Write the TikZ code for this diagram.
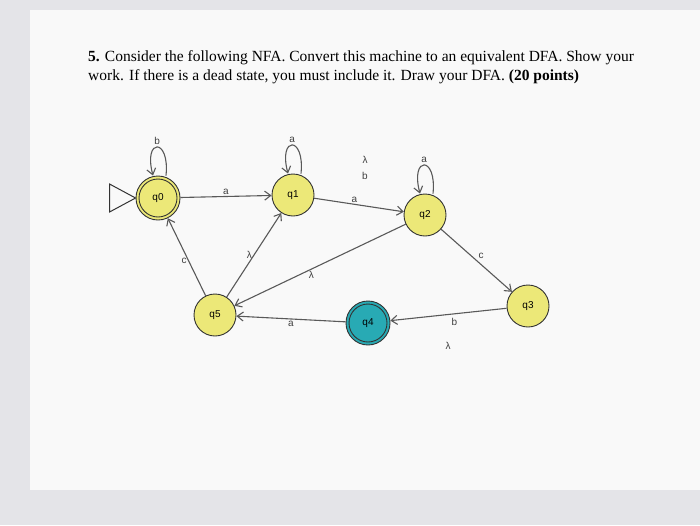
\documentclass[tikz,border=0pt]{standalone}
\usepackage{fontspec}
\setmainfont{Liberation Serif}
\newfontfamily\lab{Liberation Sans}
\usetikzlibrary{arrows.meta}
\definecolor{yel}{RGB}{236,232,120}
\definecolor{cyn}{RGB}{40,170,180}
\definecolor{bg}{RGB}{228,228,232}
\tikzset{
 st/.style={circle,draw=black!80,fill=yel,minimum size=42pt,inner sep=0pt,line width=0.9pt,font=\lab\fontsize{10}{10}\selectfont},
 tr/.style={draw=black!65,line width=1.1pt,-{Straight Barb[length=6pt,width=9pt]}},
 el/.style={font=\lab\fontsize{10}{10}\selectfont,text=black!75,inner sep=1.5pt}
}
\begin{document}
\begin{tikzpicture}[x=1pt,y=-1pt]
\useasboundingbox (0,0) rectangle (700,525);
\fill[bg] (0,0) rectangle (700,525);
\fill[white!95!gray] (30,10) rectangle (700,490);
\node[anchor=base west,inner sep=0pt,font=\fontsize{15.5}{18}\selectfont] (t1) at (88,61) {\textbf{5.} Consider the following NFA. Convert this machine to an equivalent DFA. Show your};
\node[anchor=base west,inner sep=0pt,font=\fontsize{15.5}{18}\selectfont] (t2) at (88,80) {work. If there is a dead state, you must include it. Draw your DFA. \textbf{(20 points)}};
\node[st,minimum size=44pt] (q0o) at (158,198) {};
\node[st,minimum size=38pt] (q0) at (158,198) {q0};
\node[st] (q1) at (293,195) {q1};
\node[st] (q2) at (425,215) {q2};
\node[st] (q3) at (528,306) {q3};
\node[st,fill=cyn,minimum size=44pt] (q4o) at (368,323) {};
\node[st,fill=cyn,minimum size=38pt] (q4) at (368,323) {q4};
\node[st] (q5) at (215,315) {q5};
\draw[black!80,line width=1pt] (q0o.west) -- ++(-26,-14) -- ++(0,28) -- cycle;
\draw[tr] (q0o) -- node[el,above]{a} (q1);
\draw[tr] (q1) -- node[el,above,pos=0.45]{a} (q2);
\node[el] (l1) at (365,160) {λ};
\node[el] (l2) at (365,176) {b};
\draw[tr] (q2) -- node[el,above right,pos=0.5]{c} (q3);
\draw[tr] (q3) -- node[el,below,pos=0.45,yshift=-2pt]{b} (q4o);
\node[el] (l3) at (448,346) {λ};
\draw[tr] (q4o) -- node[el,below,pos=0.5]{a} (q5);
\draw[tr] (q5) -- node[el,left,pos=0.45]{c} (q0o);
\draw[tr] (q5) -- node[el,left,pos=0.5]{λ} (q1);
\draw[tr] (q2) -- node[el,below,pos=0.55]{λ} (q5);
\draw[tr] (q0o.north)+(8,0) .. controls +(4,-38) and +(-10,-38) .. node[el,above]{b} ([xshift=-5pt]q0o.north);
\draw[tr] (q1.north)+(8,0) .. controls +(4,-38) and +(-10,-38) .. node[el,above]{a} ([xshift=-5pt]q1.north);
\draw[tr] (q2.north)+(8,0) .. controls +(4,-38) and +(-10,-38) .. node[el,above]{a} ([xshift=-5pt]q2.north);
\end{tikzpicture}
\end{document}
